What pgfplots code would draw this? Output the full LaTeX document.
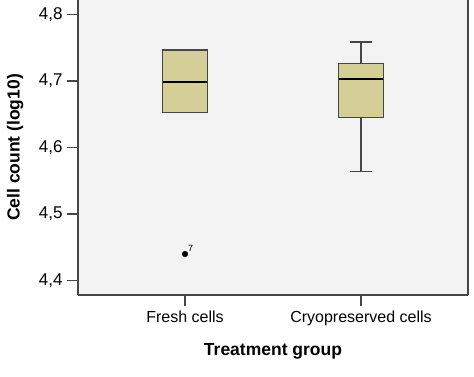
\documentclass[border=0pt]{standalone}
\usepackage{pgfplots}
\pgfplotsset{compat=1.18}
\usepackage{fontspec}
\setmainfont{Liberation Sans}
\definecolor{boxfill}{RGB}{211,207,150}
\definecolor{panel}{RGB}{243,243,243}
\definecolor{framec}{RGB}{70,70,70}
\begin{document}
\begin{tikzpicture}
\begin{axis}[
  at={(78pt,82pt)}, anchor=south west,
  scale only axis, width=390pt, height=295pt,
  xmin=0.392, xmax=2.608,
  ymin=4.3779, ymax=4.8221,
  axis x line*=bottom, axis y line*=left,
  axis line style={framec, line width=1.3pt},
  axis background/.style={fill=panel},
  xtick={1,2}, xticklabels={Fresh cells, Cryopreserved cells},
  ytick={4.4,4.5,4.6,4.7,4.8},
  /pgf/number format/assume math mode=true,
  yticklabel style={/pgf/number format/use comma, /pgf/number format/fixed, /pgf/number format/fixed zerofill, /pgf/number format/precision=1, xshift=-1pt, font=\fontsize{17}{20}\selectfont},
  tick style={framec, line width=1.3pt},
  tick align=outside, major tick length=11pt,
  xticklabel style={yshift=-1pt, font=\fontsize{16}{19}\selectfont},
  xlabel={Treatment group}, ylabel={Cell count (log10)},
  label style={font=\fontsize{17.5}{21}\selectfont\bfseries},
  xlabel style={at={(axis description cs:0.5,-0.192)}, anchor=center},
  ylabel style={at={(axis description cs:-0.1615,0.5)}, anchor=center},
  clip=false,
]
% Fresh cells: box (Q1, Q3), median
\addplot[draw=framec, fill=boxfill, line width=1.3pt, line join=miter] coordinates {(0.873,4.653) (1.127,4.653) (1.127,4.747) (0.873,4.747) (0.873,4.653)} -- cycle;
\addplot[black, line width=2pt] coordinates {(0.873,4.698) (1.127,4.698)};
% Cryopreserved cells: whiskers, caps, box, median
\addplot[framec, line width=1.3pt] coordinates {(2,4.564) (2,4.645)};
\addplot[framec, line width=1.3pt] coordinates {(2,4.727) (2,4.759)};
\addplot[framec, line width=1.3pt] coordinates {(1.9375,4.564) (2.0625,4.564)};
\addplot[framec, line width=1.3pt] coordinates {(1.9375,4.759) (2.0625,4.759)};
\addplot[draw=framec, fill=boxfill, line width=1.3pt, line join=miter] coordinates {(1.873,4.645) (2.127,4.645) (2.127,4.727) (1.873,4.727) (1.873,4.645)} -- cycle;
\addplot[black, line width=2pt] coordinates {(1.873,4.703) (2.127,4.703)};
% outlier
\addplot[only marks, mark=*, mark size=2.8pt, black] coordinates {(1,4.4396)}
  node[anchor=south west, inner sep=0pt, xshift=3pt, yshift=2pt, font=\fontsize{9}{10}\selectfont] {7};
\draw[framec, line width=1.3pt] (rel axis cs:1,0) -- (rel axis cs:1,1);
\end{axis}
\pgfresetboundingbox
\path (0pt,0pt) rectangle (474pt,377pt);
\end{tikzpicture}
\end{document}
